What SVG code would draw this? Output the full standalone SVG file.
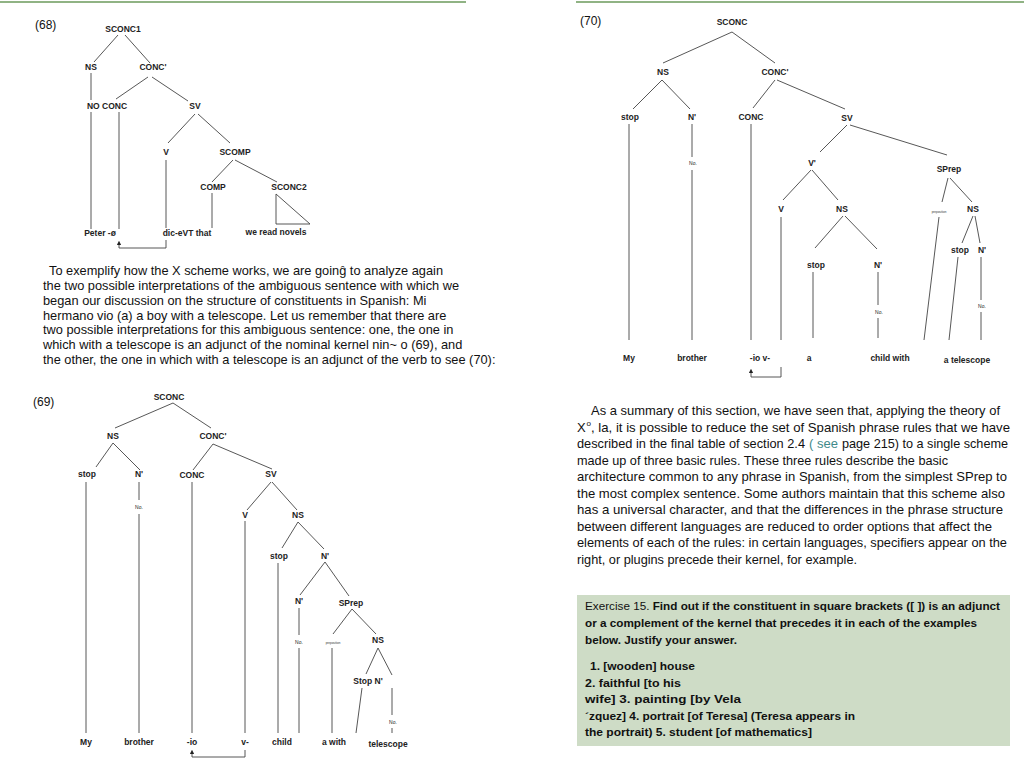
<svg xmlns="http://www.w3.org/2000/svg" width="1024" height="767" viewBox="0 0 1024 767">
<defs>
<style>
.l{font-family:"Liberation Sans",Arial,sans-serif;font-weight:bold;font-size:8.5px;fill:#222;text-anchor:middle}
.no{font-family:"Liberation Sans",Arial,sans-serif;font-size:5px;fill:#222;text-anchor:middle}
.tiny{font-family:"Liberation Sans",Arial,sans-serif;font-size:3px;fill:#333;text-anchor:middle}
.num{font-family:"Liberation Sans",Arial,sans-serif;font-size:12px;fill:#111}
.p{font-family:"Liberation Sans",Arial,sans-serif;font-size:12.8px;fill:#111}
.q{font-family:"Liberation Sans",Arial,sans-serif;font-size:13px;fill:#111}
.e{font-family:"Liberation Sans",Arial,sans-serif;font-size:11.5px;fill:#111;font-weight:bold}
.ln line,.ln polyline,.ln polygon,.ln path{stroke:#444;stroke-width:0.9;fill:none}
.rule{stroke:#6b9a5b;stroke-width:1.5}
</style>
<marker id="ah" viewBox="0 0 6 6" refX="3" refY="3" markerWidth="5" markerHeight="5" orient="auto">
<path d="M0,0 L6,3 L0,6 Z" fill="#222"/>
</marker>
</defs>
<rect width="1024" height="767" fill="#fff"/>
<line class="rule" x1="0" y1="2" x2="466" y2="2"/>
<line class="rule" x1="576" y1="2" x2="1024" y2="2"/>

<!-- (68) -->
<text class="num" x="35" y="29">(68)</text>
<g id="t68-sconc1"><text class="l" x="123" y="32">SCONC1</text></g>
<g id="t68-ns"><text class="l" x="91" y="70">NS</text></g>
<g id="t68-concb"><text class="l" x="153" y="70">CONC'</text></g>
<g id="t68-noconc"><text class="l" x="107" y="109">NO CONC</text></g>
<g id="t68-sv"><text class="l" x="195" y="109">SV</text></g>
<g id="t68-v"><text class="l" x="166" y="155">V</text></g>
<g id="t68-scomp"><text class="l" x="235" y="155">SCOMP</text></g>
<g id="t68-comp"><text class="l" x="213" y="190">COMP</text></g>
<g id="t68-sconc2"><text class="l" x="289" y="190">SCONC2</text></g>
<g id="t68-peter"><text class="l" x="100" y="236">Peter -ø</text></g>
<g id="t68-dic"><text class="l" x="187" y="236">dic-eVT that</text></g>
<g id="t68-novels"><text class="l" x="276" y="235">we read novels</text></g>

<!-- (69) -->
<text class="num" x="33" y="406">(69)</text>
<g id="t69-sconc"><text class="l" x="169" y="400">SCONC</text></g>
<g id="t69-ns"><text class="l" x="113" y="439">NS</text></g>
<g id="t69-concb"><text class="l" x="213" y="439">CONC'</text></g>
<g id="t69-stop"><text class="l" x="87" y="477">stop</text></g>
<g id="t69-nb"><text class="l" x="139" y="477">N'</text></g>
<g id="t69-conc"><text class="l" x="192" y="478">CONC</text></g>
<g id="t69-sv"><text class="l" x="271" y="477">SV</text></g>
<g id="t69-no1"><text class="no" x="139" y="509">No.</text></g>
<g id="t69-v"><text class="l" x="245" y="518">V</text></g>
<g id="t69-ns2"><text class="l" x="298" y="518">NS</text></g>
<g id="t69-stop2"><text class="l" x="279" y="559">stop</text></g>
<g id="t69-nb2"><text class="l" x="325" y="559">N'</text></g>
<g id="t69-nb3"><text class="l" x="299" y="604">N'</text></g>
<g id="t69-sprep"><text class="l" x="351" y="606">SPrep</text></g>
<g id="t69-no2"><text class="no" x="299" y="644">No.</text></g>
<g id="t69-prep"><text class="tiny" x="333" y="644">preposition</text></g>
<g id="t69-ns3"><text class="l" x="378" y="643">NS</text></g>
<g id="t69-stopn"><text class="l" x="368" y="684">Stop N'</text></g>
<g id="t69-no3"><text class="no" x="393" y="724">No.</text></g>
<g id="t69-my"><text class="l" x="86" y="745">My</text></g>
<g id="t69-brother"><text class="l" x="139" y="745">brother</text></g>
<g id="t69-io"><text class="l" x="192" y="745">-io</text></g>
<g id="t69-vv"><text class="l" x="245" y="745">v-</text></g>
<g id="t69-child"><text class="l" x="282" y="745">child</text></g>
<g id="t69-awith"><text class="l" x="334" y="745">a with</text></g>
<g id="t69-tele"><text class="l" x="388" y="747">telescope</text></g>

<!-- (70) -->
<text class="num" x="580" y="25">(70)</text>
<g id="t70-sconc"><text class="l" x="732" y="25">SCONC</text></g>
<g id="t70-ns"><text class="l" x="663" y="75">NS</text></g>
<g id="t70-concb"><text class="l" x="775" y="75">CONC'</text></g>
<g id="t70-stop"><text class="l" x="630" y="120">stop</text></g>
<g id="t70-nb"><text class="l" x="692" y="120">N'</text></g>
<g id="t70-conc"><text class="l" x="751" y="120">CONC</text></g>
<g id="t70-sv"><text class="l" x="847" y="121">SV</text></g>
<g id="t70-no1"><text class="no" x="693" y="165">No.</text></g>
<g id="t70-vb"><text class="l" x="812" y="166">V'</text></g>
<g id="t70-sprep"><text class="l" x="949" y="172">SPrep</text></g>
<g id="t70-v"><text class="l" x="781" y="212">V</text></g>
<g id="t70-ns2"><text class="l" x="842" y="212">NS</text></g>
<g id="t70-prep"><text class="tiny" x="939" y="213">preposition</text></g>
<g id="t70-ns3"><text class="l" x="973" y="212">NS</text></g>
<g id="t70-stop2"><text class="l" x="816" y="268">stop</text></g>
<g id="t70-nb2"><text class="l" x="878" y="268">N'</text></g>
<g id="t70-stop3"><text class="l" x="960" y="253">stop</text></g>
<g id="t70-nb3"><text class="l" x="982" y="253">N'</text></g>
<g id="t70-no2"><text class="no" x="879" y="314">No.</text></g>
<g id="t70-no3"><text class="no" x="982" y="308">No.</text></g>
<g id="t70-my"><text class="l" x="629" y="361">My</text></g>
<g id="t70-brother"><text class="l" x="692" y="361">brother</text></g>
<g id="t70-iov"><text class="l" x="760" y="361">-io v-</text></g>
<g id="t70-a"><text class="l" x="809" y="361">a</text></g>
<g id="t70-childwith"><text class="l" x="890" y="361">child with</text></g>
<g id="t70-atele"><text class="l" x="967" y="363">a telescope</text></g>

<g id="connectors" class="ln">
<!-- 68 -->
<line x1="118" y1="35" x2="94" y2="62"/>
<line x1="125" y1="35" x2="150" y2="63"/>
<line x1="91" y1="73" x2="91" y2="100"/>
<line x1="91" y1="112" x2="91" y2="229"/>
<line x1="148" y1="77" x2="116" y2="99"/>
<line x1="152" y1="77" x2="188" y2="101"/>
<line x1="119" y1="112" x2="119" y2="229"/>
<line x1="195" y1="114" x2="168" y2="143"/>
<line x1="198" y1="114" x2="230" y2="143"/>
<line x1="166" y1="160" x2="166" y2="228"/>
<line x1="233" y1="160" x2="212" y2="182"/>
<line x1="235" y1="160" x2="277" y2="182"/>
<line x1="212" y1="193" x2="212" y2="228"/>
<polygon points="276,194 276,224 310,224"/>
<path d="M166,240 V248 H119 V243" marker-end="url(#ah)"/>
<!-- 69 -->
<line x1="173" y1="403" x2="115" y2="428"/>
<line x1="173" y1="403" x2="211" y2="428"/>
<line x1="113" y1="443" x2="96" y2="467"/>
<line x1="113" y1="443" x2="140" y2="470"/>
<line x1="213" y1="444" x2="193" y2="470"/>
<line x1="213" y1="444" x2="272" y2="469"/>
<line x1="86" y1="482" x2="86" y2="733"/>
<line x1="139" y1="482" x2="139" y2="500"/>
<line x1="139" y1="514" x2="139" y2="733"/>
<line x1="192" y1="482" x2="192" y2="733"/>
<line x1="271" y1="482" x2="247" y2="510"/>
<line x1="272" y1="482" x2="297" y2="510"/>
<line x1="245" y1="521" x2="245" y2="733"/>
<line x1="298" y1="522" x2="282" y2="548"/>
<line x1="298" y1="522" x2="324" y2="549"/>
<line x1="278" y1="563" x2="278" y2="733"/>
<line x1="325" y1="562" x2="300" y2="595"/>
<line x1="325" y1="562" x2="349" y2="596"/>
<line x1="299" y1="608" x2="299" y2="635"/>
<line x1="299" y1="648" x2="299" y2="733"/>
<line x1="352" y1="609" x2="333" y2="634"/>
<line x1="352" y1="609" x2="376" y2="634"/>
<line x1="332" y1="648" x2="332" y2="733"/>
<line x1="378" y1="648" x2="366" y2="674"/>
<line x1="378" y1="648" x2="392" y2="675"/>
<line x1="362" y1="688" x2="356" y2="733"/>
<line x1="392" y1="688" x2="392" y2="715"/>
<line x1="392" y1="728" x2="392" y2="733"/>
<path d="M245,750 V757 H192 V752" marker-end="url(#ah)"/>
<!-- 70 -->
<line x1="732" y1="32" x2="663" y2="63"/>
<line x1="732" y1="32" x2="775" y2="63"/>
<line x1="662" y1="80" x2="633" y2="109"/>
<line x1="662" y1="80" x2="690" y2="109"/>
<line x1="775" y1="80" x2="753" y2="108"/>
<line x1="777" y1="80" x2="845" y2="109"/>
<line x1="629" y1="124" x2="629" y2="340"/>
<line x1="692" y1="124" x2="692" y2="157"/>
<line x1="692" y1="170" x2="692" y2="340"/>
<line x1="751" y1="124" x2="751" y2="340"/>
<line x1="847" y1="125" x2="820" y2="152"/>
<line x1="850" y1="125" x2="947" y2="155"/>
<line x1="811" y1="170" x2="783" y2="200"/>
<line x1="812" y1="170" x2="838" y2="200"/>
<line x1="781" y1="217" x2="781" y2="340"/>
<line x1="843" y1="216" x2="815" y2="248"/>
<line x1="845" y1="216" x2="877" y2="249"/>
<line x1="813" y1="272" x2="813" y2="338"/>
<line x1="878" y1="272" x2="878" y2="305"/>
<line x1="878" y1="318" x2="878" y2="338"/>
<line x1="948" y1="178" x2="942" y2="202"/>
<line x1="950" y1="178" x2="972" y2="202"/>
<line x1="939" y1="217" x2="924" y2="340"/>
<line x1="973" y1="216" x2="962" y2="243"/>
<line x1="975" y1="216" x2="980" y2="243"/>
<line x1="958" y1="257" x2="949" y2="340"/>
<line x1="981" y1="257" x2="981" y2="300"/>
<line x1="981" y1="312" x2="981" y2="340"/>
<path d="M781,367 V377 H751 V371" marker-end="url(#ah)"/>
</g>

<!-- left paragraph -->
<g id="para1">
<text class="p" x="49" y="275">To exemplify how the X scheme works, we are goinĝ to analyze again</text>
<text class="p" x="43" y="290">the two possible interpretations of the ambiguous sentence with which we</text>
<text class="p" x="43" y="305">began our discussion on the structure of constituents in Spanish: Mi</text>
<text class="p" x="43" y="319.5">hermano vio (a) a boy with a telescope. Let us remember that there are</text>
<text class="p" x="43" y="334">two possible interpretations for this ambiguous sentence: one, the one in</text>
<text class="p" x="43" y="349">which with a telescope is an adjunct of the nominal kernel nin~ o (69), and</text>
<text class="p" x="43" y="363.5">the other, the one in which with a telescope is an adjunct of the verb to see (70):</text>
</g>

<!-- right paragraph -->
<g id="para2">
<text class="q" x="591" y="415" textLength="409" lengthAdjust="spacingAndGlyphs">As a summary of this section, we have seen that, applying the theory of</text>
<text class="q" x="577" y="431.5">X</text>
<text class="q" x="586.5" y="426" style="font-size:8px">o</text>
<text class="q" x="591" y="431.5" textLength="419" lengthAdjust="spacingAndGlyphs">, la, it is possible to reduce the set of Spanish phrase rules that we have</text>
<text class="q" x="577" y="448" textLength="228" lengthAdjust="spacingAndGlyphs">described in the final table of section 2.4</text>
<text class="q" x="809" y="448" style="fill:#3f8a8a">( see</text>
<text class="q" x="842" y="448" textLength="166" lengthAdjust="spacingAndGlyphs">page 215) to a single scheme</text>
<text class="q" x="577" y="464.5" textLength="371" lengthAdjust="spacingAndGlyphs">made up of three basic rules. These three rules describe the basic</text>
<text class="q" x="577" y="481" textLength="430" lengthAdjust="spacingAndGlyphs">architecture common to any phrase in Spanish, from the simplest SPrep to</text>
<text class="q" x="577" y="497.5" textLength="428" lengthAdjust="spacingAndGlyphs">the most complex sentence. Some authors maintain that this scheme also</text>
<text class="q" x="577" y="514" textLength="426" lengthAdjust="spacingAndGlyphs">has a universal character, and that the differences in the phrase structure</text>
<text class="q" x="577" y="530.5" textLength="415" lengthAdjust="spacingAndGlyphs">between different languages are reduced to order options that affect the</text>
<text class="q" x="577" y="547" textLength="430" lengthAdjust="spacingAndGlyphs">elements of each of the rules: in certain languages, specifiers appear on the</text>
<text class="q" x="577" y="563.5" textLength="280" lengthAdjust="spacingAndGlyphs">right, or plugins precede their kernel, for example.</text>
</g>

<!-- exercise box -->
<g id="exercise">
<rect x="577" y="595" width="433" height="151" fill="#cedcc6"/>
<text class="e" x="585" y="610" textLength="415" lengthAdjust="spacingAndGlyphs"><tspan font-weight="normal">Exercise 15. </tspan>Find out if the constituent in square brackets ([ ]) is an adjunct</text>
<text class="e" x="585" y="627" textLength="392" lengthAdjust="spacingAndGlyphs">or a complement of the kernel that precedes it in each of the examples</text>
<text class="e" x="585" y="644" textLength="152" lengthAdjust="spacingAndGlyphs">below. Justify your answer.</text>
<text class="e" x="590" y="670" textLength="105" lengthAdjust="spacingAndGlyphs">1. [wooden] house</text>
<text class="e" x="585" y="686.5" textLength="96" lengthAdjust="spacingAndGlyphs">2. faithful [to his</text>
<text class="e" x="585" y="703" textLength="156" lengthAdjust="spacingAndGlyphs">wife] 3. painting [by Vela</text>
<text class="e" x="585" y="719.5" textLength="270" lengthAdjust="spacingAndGlyphs">´zquez] 4. portrait [of Teresa] (Teresa appears in</text>
<text class="e" x="585" y="736" textLength="227" lengthAdjust="spacingAndGlyphs">the portrait) 5. student [of mathematics]</text>
</g>
</svg>
